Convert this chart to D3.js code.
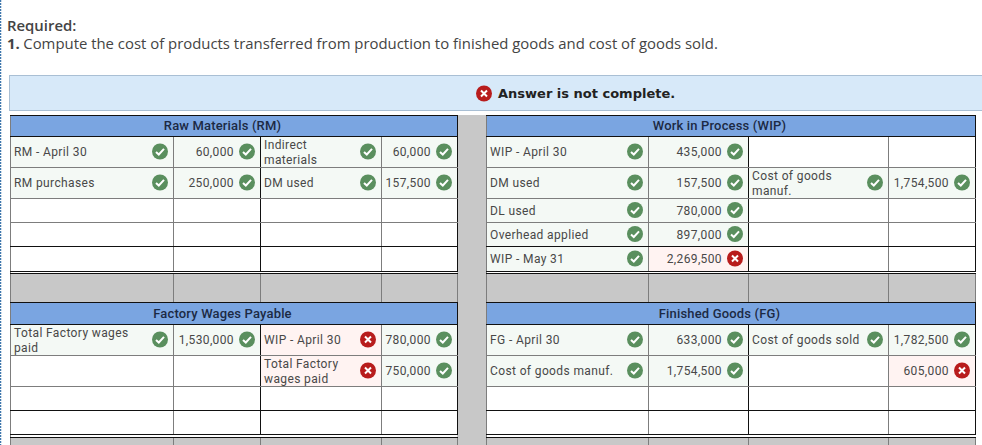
<!DOCTYPE html>
<html>
<head>
<meta charset="utf-8">
<script src="https://cdn.jsdelivr.net/npm/d3@7"></script>
<style>
    html, body { margin: 0; padding: 0; background: #fff; overflow: hidden; }
    svg { display: block; }
    .cell-text { font: 12px Roboto, sans-serif; letter-spacing: 0.38px; fill: #484848; }
    .panel-title { font: 500 13px Roboto, sans-serif; letter-spacing: 0.16px; fill: #1c2a44; text-anchor: middle; }
    .prompt { font: 14.9px "Open Sans", sans-serif; fill: #444; }
    .banner-text { font: bold 13px "DejaVu Sans", sans-serif; fill: #222; }
</style>
</head>
<body>
<svg id="chart" width="982" height="445"></svg>
<script>
// Each row holds four cells: debit label, debit amount, credit label, credit amount
const rawMaterialsRows = [
    [['RM - April 30', 'ok'], ['60,000', 'ok'], ['Indirect\nmaterials', 'ok'], ['60,000', 'ok']],
    [['RM purchases', 'ok'], ['250,000', 'ok'], ['DM used', 'ok'], ['157,500', 'ok']],
    [null, null, null, null],
    [null, null, null, null],
    [null, null, null, null]
];
const workInProcessRows = [
    [['WIP - April 30', 'ok'], ['435,000', 'ok'], null, null],
    [['DM used', 'ok'], ['157,500', 'ok'], ['Cost of goods\nmanuf.', 'ok'], ['1,754,500', 'ok']],
    [['DL used', 'ok'], ['780,000', 'ok'], null, null],
    [['Overhead applied', 'ok'], ['897,000', 'ok'], null, null],
    [['WIP - May 31', 'ok'], ['2,269,500', 'bad'], null, null]
];
const factoryWagesRows = [
    [['Total Factory wages\npaid', 'ok'], ['1,530,000', 'ok'], ['WIP - April 30', 'bad'], ['780,000', 'ok']],
    [null, null, ['Total Factory\nwages paid', 'bad'], ['750,000', 'ok']],
    [null, null, null, null],
    [null, null, null, null]
];
const finishedGoodsRows = [
    [['FG - April 30', 'ok'], ['633,000', 'ok'], ['Cost of goods sold', 'ok'], ['1,782,500', 'ok']],
    [['Cost of goods manuf.', 'ok'], ['1,754,500', 'ok'], null, ['605,000', 'bad']],
    [null, null, null, null],
    [null, null, null, null]
];
const panelTitles = ['Raw Materials (RM)', 'Work in Process (WIP)', 'Factory Wages Payable', 'Finished Goods (FG)'];
const promptHeading = 'Required:';
const promptNumber = '1.';
const promptText = 'Compute the cost of products transferred from production to finished goods and cost of goods sold.';
const bannerText = 'Answer is not complete.';

// ── Layout ───────────────────────────────────────────────────────────────

const COLOR = {
    header: '#7aa5e1',
    gray: '#c8c8c8',
    line: '#7d7d7d',
    dark: '#111',
    okFill: '#f4f9f5',
    badFill: '#fff3f2',
    okIcon: '#5a8f5e',
    badIcon: '#b81c1c'
};

const columnEdges = {
    left: d3.scaleOrdinal([0, 1, 2, 3, 4], [10, 173, 260, 381, 457]),
    right: d3.scaleOrdinal([0, 1, 2, 3, 4], [486, 648, 748, 888, 975])
};
const rowEdges = {
    top: d3.scaleOrdinal([0, 1, 2, 3, 4, 5], [136, 167, 198, 222, 246, 271]),
    bottom: d3.scaleOrdinal([0, 1, 2, 3, 4], [324, 355, 386, 410, 434])
};
const headerTop = { top: 115, bottom: 302 };
const grayTop = { top: 273, bottom: 437 };
const grayBottom = { top: 302, bottom: 445 };
const darkRow = { top: 4, bottom: 3 };

const svg = d3.select('#chart');

// ── Prompt and banner ────────────────────────────────────────────────────

svg.append('line')
    .attr('x1', 0.5).attr('x2', 0.5).attr('y1', 0).attr('y2', 445)
    .attr('stroke', '#3f77ad').attr('stroke-width', 1.5).attr('stroke-dasharray', '2 1');

svg.append('text').attr('class', 'prompt').attr('x', 7).attr('y', 31)
    .style('font-weight', 600).text(promptHeading);
const promptLine = svg.append('text').attr('class', 'prompt').attr('x', 7).attr('y', 49);
promptLine.append('tspan').style('font-weight', 700).text(promptNumber);
promptLine.append('tspan').attr('dx', 3.5).text(promptText);

svg.append('rect')
    .attr('x', 9.5).attr('y', 75.5).attr('width', 973).attr('height', 35)
    .attr('fill', '#d7e9f9').attr('stroke', '#a9bfd4');
drawIcon(svg, 484, 93.5, 'bad');
svg.append('text').attr('class', 'banner-text').attr('x', 498).attr('y', 98).text(bannerText);

// ── Separator column between the panels ──────────────────────────────────

svg.append('rect')
    .attr('x', columnEdges.left(4)).attr('y', headerTop.top)
    .attr('width', columnEdges.right(0) - columnEdges.left(4)).attr('height', 445 - headerTop.top)
    .attr('fill', COLOR.gray);

// ── Panels ───────────────────────────────────────────────────────────────

drawPanel(panelTitles[0], rawMaterialsRows, columnEdges.left, 'top');
drawPanel(panelTitles[1], workInProcessRows, columnEdges.right, 'top');
drawPanel(panelTitles[2], factoryWagesRows, columnEdges.left, 'bottom');
drawPanel(panelTitles[3], finishedGoodsRows, columnEdges.right, 'bottom');

function drawPanel(title, rows, x, band) {
    const y = rowEdges[band];
    const g = svg.append('g');
    const left = x(0), right = x(4), last = rows.length;

    // Gray spacer row under the panel
    g.append('rect')
        .attr('x', left).attr('y', grayTop[band])
        .attr('width', right - left).attr('height', grayBottom[band] - grayTop[band])
        .attr('fill', COLOR.gray);

    // Cell tints
    rows.forEach((row, r) => row.forEach((cell, c) => {
        if (!cell) return;
        g.append('rect')
            .attr('x', x(c)).attr('y', y(r))
            .attr('width', x(c + 1) - x(c)).attr('height', y(r + 1) - y(r))
            .attr('fill', cell[1] === 'ok' ? COLOR.okFill : COLOR.badFill);
    }));

    // Header band
    g.append('rect')
        .attr('x', left).attr('y', headerTop[band])
        .attr('width', right - left).attr('height', y(0) - headerTop[band])
        .attr('fill', COLOR.header);
    g.append('text').attr('class', 'panel-title')
        .attr('x', (left + right) / 2 - 11).attr('y', y(0) - 6)
        .text(title);

    // Vertical rules: data rows, then the gray spacer
    d3.range(1, 5).forEach(c => {
        vLine(g, x(c), y(0), y(last), c === 2 ? COLOR.dark : COLOR.line);
        vLine(g, x(c), grayTop[band], grayBottom[band], COLOR.line);
    });
    vLine(g, left, headerTop[band], grayBottom[band], COLOR.line);
    vLine(g, right, headerTop[band], y(last), COLOR.dark);

    // Horizontal rules
    hLine(g, left, right, headerTop[band], COLOR.dark);
    hLine(g, left, right, y(0), COLOR.dark);
    d3.range(1, last).forEach(r => hLine(g, left, right, y(r), r === darkRow[band] ? COLOR.dark : COLOR.line));
    hLine(g, left, right, y(last), COLOR.dark);
    hLine(g, left, right, grayTop[band], COLOR.dark);

    // Cell contents
    rows.forEach((row, r) => row.forEach((cell, c) => {
        if (cell) drawCell(g, cell, x, c, y(r), y(r + 1));
    }));
}

function drawCell(g, [content, status], x, c, y0, y1) {
    const cy = (y0 + y1) / 2;
    const isAmount = c % 2 === 1;
    const lines = content.split('\n');
    const text = g.append('text').attr('class', 'cell-text')
        .attr('x', isAmount ? x(c + 1) - 26 : x(c) + 4)
        .attr('text-anchor', isAmount ? 'end' : 'start');
    lines.forEach((line, i) => {
        text.append('tspan')
            .attr('x', text.attr('x'))
            .attr('y', cy + 4.5 + (i - (lines.length - 1) / 2) * 15)
            .text(line);
    });
    drawIcon(g, x(c + 1) - 13, cy, status);
}

function drawIcon(g, cx, cy, status) {
    const icon = g.append('g').attr('transform', `translate(${cx},${cy})`);
    icon.append('circle').attr('r', 8)
        .attr('fill', status === 'ok' ? COLOR.okIcon : COLOR.badIcon);
    icon.append('path')
        .attr('d', status === 'ok' ? 'M-4,0.4L-1.2,3L4,-2.6' : 'M-3,-3L3,3M3,-3L-3,3')
        .attr('fill', 'none').attr('stroke', '#fff').attr('stroke-width', 2);
}

function hLine(g, x1, x2, y, color) {
    g.append('line')
        .attr('x1', x1).attr('x2', x2 + 1).attr('y1', y + 0.5).attr('y2', y + 0.5)
        .attr('stroke', color);
}

function vLine(g, x, y1, y2, color) {
    g.append('line')
        .attr('x1', x + 0.5).attr('x2', x + 0.5).attr('y1', y1).attr('y2', y2)
        .attr('stroke', color);
}
</script>
</body>
</html>
